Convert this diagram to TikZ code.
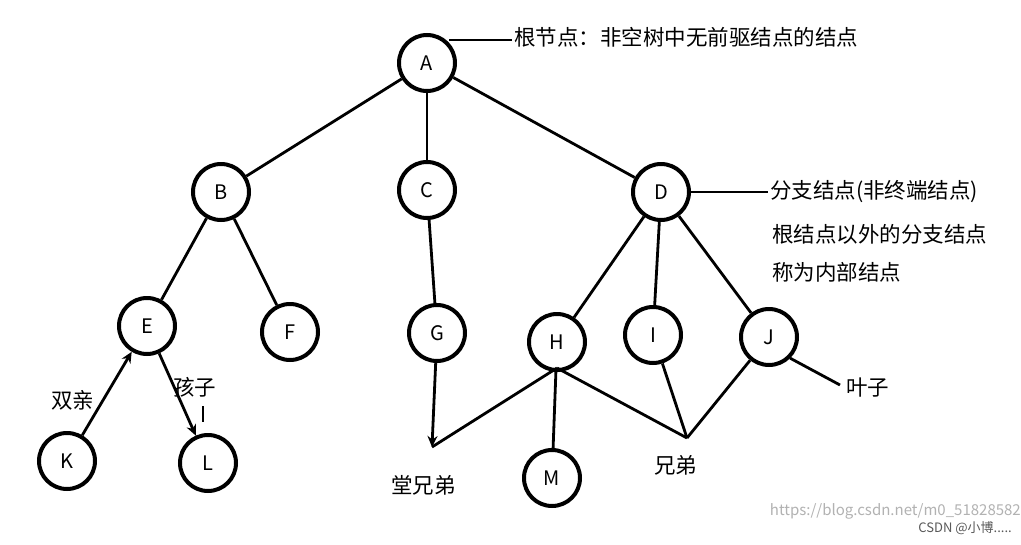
\documentclass[tikz,border=0pt]{standalone}
\usepackage{fontspec}
\setmainfont{Noto Sans CJK SC}
\usetikzlibrary{arrows.meta}
\begin{document}
\begin{tikzpicture}[x=1pt,y=-1pt,
  nd/.style={circle,draw,line width=4pt,minimum size=56pt,inner sep=0pt,font=\fontsize{20}{22}\selectfont},
  ln/.style={line width=2.8pt},
  lb/.style={font=\fontsize{21.5}{24}\selectfont,inner sep=1pt,anchor=west},
  wm/.style={font=\fontsize{15}{17}\selectfont,text=black!30,inner sep=0pt}]
\useasboundingbox[fill=white] (0,0) rectangle (1021,544);
\node[nd] (A) at (427,63) {A};
\node[nd] (B) at (221,192) {B};
\node[nd] (C) at (427,190) {C};
\node[nd] (D) at (661,192) {D};
\node[nd] (E) at (147,326) {E};
\node[nd] (F) at (290,332) {F};
\node[nd] (G) at (437,333) {G};
\node[nd] (H) at (557,342) {H};
\node[nd] (I) at (653,335) {I};
\node[nd] (J) at (769,337) {J};
\node[nd] (K) at (67,461) {K};
\node[nd] (L) at (208,463) {L};
\node[nd] (M) at (552,478) {M};
\draw[ln] (A)--(B); \draw[ln] (A)--(C); \draw[ln] (A)--(D);
\draw[ln] (B)--(E); \draw[ln] (B)--(F); \draw[ln] (C)--(G);
\draw[ln] (D)--(H); \draw[ln] (D)--(I); \draw[ln] (D)--(J);
\draw[ln] (H)--(M);
\draw[ln,-{Stealth[length=11pt,width=10pt]}] (K)--(E);
\draw[ln,-{Stealth[length=11pt,width=10pt]}] (E)--(L);
\coordinate (cg) at (432,447);
\coordinate (sb) at (687,438);
\draw[ln,-{Stealth[length=11pt,width=10pt]}] (G)--(cg);
\coordinate (hb) at (557,368);
\draw[ln] (hb)--(cg);
\draw[ln] (hb)--(sb);
\draw[ln] (I)--(sb); \draw[ln] (J)--(sb);
\coordinate (a0) at (449,40);
\coordinate (a1) at (512,40);
\draw[ln] (a0)--(a1);
\node[lb] (t1) at (513,37) {根节点：非空树中无前驱结点的结点};
\coordinate (d1) at (768,192);
\draw[ln] (D.east)--(d1);
\node[lb] (t2) at (769,192) {分支结点(非终端结点)};
\node[lb] (t3) at (771,234) {根结点以外的分支结点};
\node[lb] (t4) at (771,272) {称为内部结点};
\coordinate (j1) at (840,385);
\draw[ln] (J.south east)--(j1);
\node[lb] (t5) at (845,388) {叶子};
\node[lb] (t6) at (50,400) {双亲};
\node[lb] (t7) at (172,387) {孩子};
\coordinate (k1) at (203,406); \coordinate (k2) at (203,422);
\draw[line width=2pt] (k1)--(k2);
\node[lb] (t8) at (390,485) {堂兄弟};
\node[lb] (t9) at (653,465) {兄弟};
\node[wm,anchor=east] (w1) at (1021,511) {https://blog.csdn.net/m0\_51828582};
\node[wm,anchor=east,text=black!65,font=\fontsize{13}{15}\selectfont] (w2) at (1012,528) {CSDN @小博.....};
\end{tikzpicture}
\end{document}
